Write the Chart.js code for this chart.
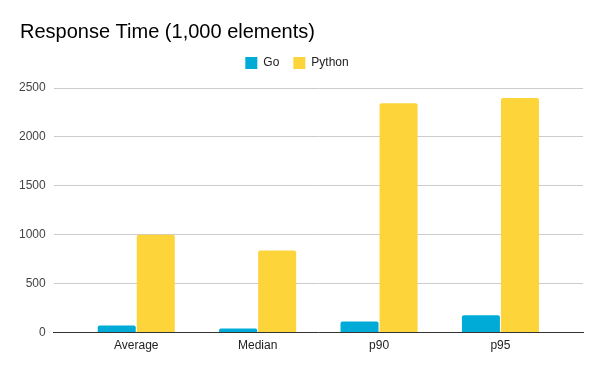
<!DOCTYPE html>
<html>
<head>
<meta charset="utf-8">
<script src="https://cdn.jsdelivr.net/npm/chart.js@4"></script>
<style>
  html, body { margin: 0; padding: 0; background: #fff; }
  #wrap { width: 600px; height: 371px; }
</style>
</head>
<body>
<div id="wrap"><canvas id="chart"></canvas></div>
<script>
// ===== DATA =====
const chartTitle = 'Response Time (1,000 elements)';
const categories = ['Average', 'Median', 'p90', 'p95'];
const goTimes = [72, 41, 113, 177];
const pythonTimes = [1000, 840, 2345, 2398];
const yTicks = [0, 500, 1000, 1500, 2000, 2500];

const FONT = '"Liberation Sans", Arial, sans-serif';

// title drawn left-aligned at a fixed spot, like the sheets export
const titlePlugin = {
    id: 'leftTitle',
    afterDraw(chart) {
        const ctx = chart.ctx;
        ctx.save();
        ctx.font = '20px ' + FONT;
        ctx.fillStyle = '#000';
        ctx.textBaseline = 'alphabetic';
        ctx.fillText(chartTitle, 20, 38);
        ctx.restore();
    }
};

// extra room between legend and plot
const legendGap = {
    id: 'legendGap',
    beforeInit(chart) {
        const fit = chart.legend.fit;
        chart.legend.fit = function () {
            fit.call(this);
            this.height += 9;
        };
    }
};

const toPoints = values => values.map((v, i) => ({ x: i, y: v }));

new Chart(document.getElementById('chart'), {
    type: 'bar',
    data: {
        datasets: [{
            label: 'Go',
            data: toPoints(goTimes),
            backgroundColor: '#00ACD7',
            borderRadius: { topLeft: 2, topRight: 2 },
            borderSkipped: 'bottom'
        }, {
            label: 'Python',
            data: toPoints(pythonTimes),
            backgroundColor: '#FDD43A',
            borderRadius: { topLeft: 2, topRight: 2 },
            borderSkipped: 'bottom'
        }]
    },
    options: {
        responsive: true,
        maintainAspectRatio: false,
        animation: false,
        categoryPercentage: 0.643,
        barPercentage: 0.974,
        layout: {
            padding: { top: 43, left: 11, right: 17, bottom: 12 }
        },
        plugins: {
            title: { display: false },
            tooltip: { enabled: false },
            legend: {
                position: 'top',
                labels: {
                    boxWidth: 12,
                    boxHeight: 12,
                    padding: 14,
                    color: '#222',
                    font: { family: FONT, size: 12 }
                }
            }
        },
        scales: {
            x: {
                type: 'linear',
                min: -0.68,
                max: 3.68,
                offset: false,
                afterBuildTicks: axis => {
                    axis.ticks = categories.map((c, i) => ({ value: i }));
                },
                ticks: {
                    autoSkip: false,
                    maxRotation: 0,
                    padding: 6,
                    color: '#222',
                    font: { family: FONT, size: 12 },
                    callback: value => categories[value]
                },
                grid: { display: false, drawTicks: false },
                border: { display: true, color: '#333', width: 1 }
            },
            y: {
                min: 0,
                max: 2500,
                afterBuildTicks: axis => {
                    axis.ticks = yTicks.map(v => ({ value: v }));
                },
                ticks: {
                    padding: 8,
                    color: '#444',
                    font: { family: FONT, size: 12 },
                    callback: value => String(value)
                },
                grid: { color: '#ccc', drawTicks: false },
                border: { display: false }
            }
        }
    },
    plugins: [titlePlugin, legendGap]
});
</script>
</body>
</html>
